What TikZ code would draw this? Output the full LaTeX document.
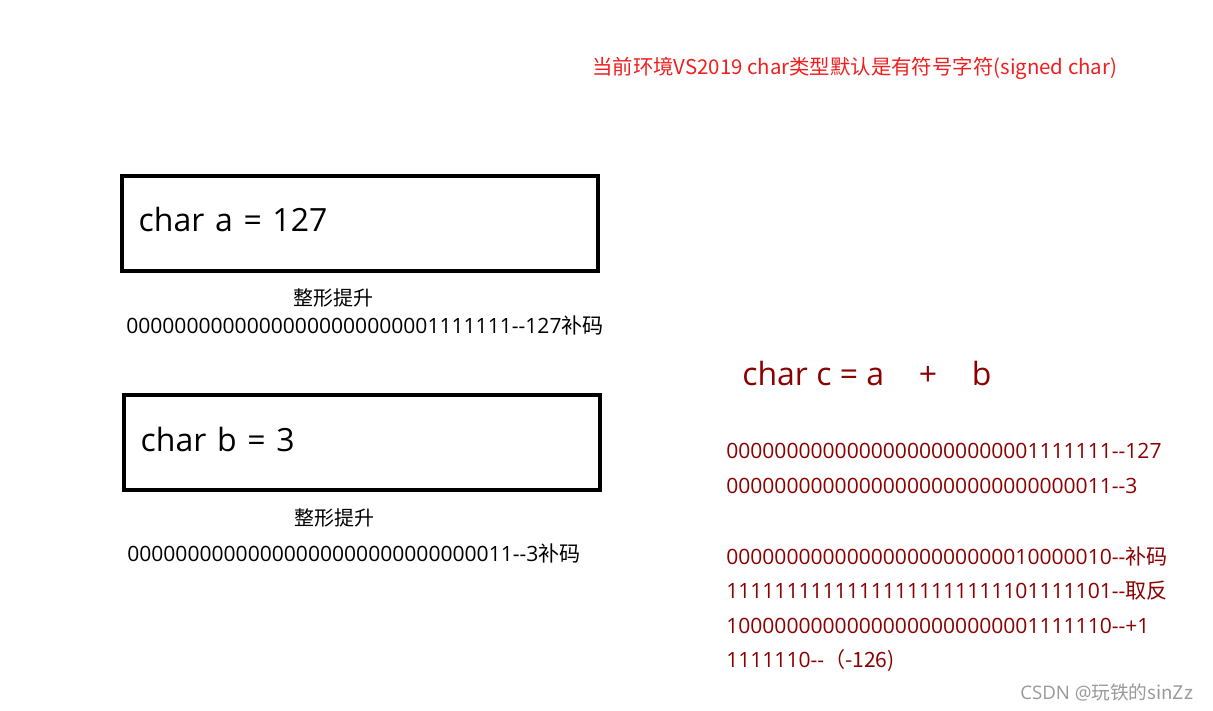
\documentclass[tikz,border=0pt]{standalone}
\usepackage{fontspec}
\setmainfont{Open Sans}
\newfontfamily\cjk{Noto Sans CJK SC}
\usepackage{tikz}
\usetikzlibrary{positioning}
\definecolor{sumred}{RGB}{139,0,0}
\definecolor{notered}{RGB}{240,30,30}

\begin{document}
\begin{tikzpicture}[x=0.75pt, y=-0.75pt,
    codebox/.style={draw, line width=3pt, outer sep=0pt, anchor=north west, minimum width=357pt, minimum height=71.25pt, text width=332pt, inner xsep=12.5pt, align=left, font=\fontsize{24}{28}\selectfont},
    bits/.style={anchor=west, inner sep=0pt, font=\fontsize{15.8}{18}\selectfont},
    sumbits/.style={bits, text=sumred}]
                \useasboundingbox (0,0) rectangle (1213,710);

                \node[anchor=west, inner sep=0pt, text=notered, font=\fontsize{15.3}{18}\selectfont] (note) at (592,68) {\cjk{当前环境}VS2019 char\cjk{类型默认是有符号字符}(signed char)};

                % variable a
                \node[codebox] (boxa) at (122,176) {\raisebox{6pt}{char a = 127}};
                \node[inner sep=0pt, font=\fontsize{15}{18}\selectfont] (proma) at (333,298) {\cjk{整形提升}};
                \node[bits] (bina) at (126,325) {00000000000000000000000001111111-{}-127\cjk{补码}};

                % variable b
                \node[codebox] (boxb) at (124,395) {\raisebox{4pt}{char b = 3}};
                \node[inner sep=0pt, font=\fontsize{15}{18}\selectfont] (promb) at (334,518) {\cjk{整形提升}};
                \node[bits] (binb) at (127,553) {00000000000000000000000000000011-{}-3\cjk{补码}};

                % c = a + b
                \node[anchor=west, inner sep=0pt, text=sumred, font=\fontsize{24}{28}\selectfont] (sumc) at (742,373) {char c = a\hspace{26pt}+\hspace{26pt}b};
                \node[sumbits] (suma) at (726,451) {00000000000000000000000001111111-{}-127};
                \node[sumbits] (sumb) at (726,486) {00000000000000000000000000000011-{}-3};
                \node[sumbits] (sumcomp) at (726,556) {00000000000000000000000010000010-{}-\cjk{补码}};
                \node[sumbits] (suminv) at (726,591) {11111111111111111111111101111101-{}-\cjk{取反}};
                \node[sumbits] (sumplus) at (726,626) {10000000000000000000000001111110-{}-+1};
                \node[sumbits] (sumres) at (726,661) {1111110-{}-\cjk{（}-126)};

                \node[anchor=west, inner sep=0pt, text=black!40, font=\fontsize{14}{16}\selectfont] (mark) at (1020,692) {CSDN @\cjk{玩铁的}sinZz};
\end{tikzpicture}
\end{document}
